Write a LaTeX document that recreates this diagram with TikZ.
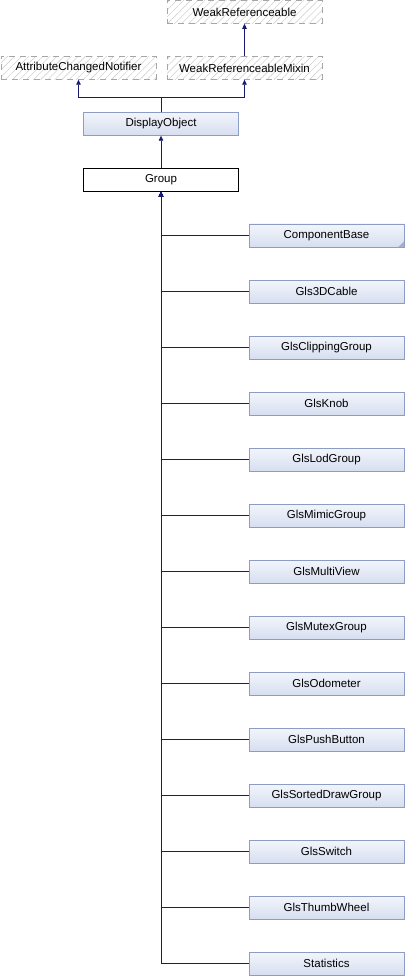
\documentclass[tikz,border=0pt]{standalone}
\usepackage{fontspec}
\setmainfont{Liberation Sans}
\usetikzlibrary{arrows.meta,patterns.meta}
\definecolor{edgeblue}{HTML}{191970}
\definecolor{boxline}{HTML}{8C9CC4}
\definecolor{boxtop}{HTML}{F2F5FB}
\definecolor{boxbottom}{HTML}{D6DEEF}
\tikzset{>={Triangle[length=5pt,width=4.5pt]}}
\tikzset{
  cls/.style={draw=boxline, top color=boxtop, bottom color=boxbottom,
    minimum width=155pt, minimum height=23pt, inner sep=0pt,
    font=\fontsize{11.5}{13}\selectfont},
  current/.style={cls, draw=black, fill=white, top color=white, bottom color=white},
  hidden/.style={draw=gray!70, dashed, dash pattern=on 6pt off 5pt,
    pattern={Lines[angle=45,distance=5pt,line width=0.6pt]}, pattern color=gray!35,
    minimum width=155pt, minimum height=23pt, inner sep=0pt,
    font=\fontsize{11.5}{13}\selectfont},
  inherit/.style={->, draw=edgeblue, line width=0.6pt}
}

\begin{document}
\begin{tikzpicture}[x=1pt, y=-1pt]
        \useasboundingbox (0,0) rectangle (405,976);
        \node[hidden] (wr) at (244.5,12) {WeakReferenceable}; %top
        \node[hidden] (acn) at (78.5,68) {AttributeChangedNotifier};
        \node[hidden] (wrm) at (244.5,68) {WeakReferenceableMixin};
        \node[cls] (dobj) at (161,124) {DisplayObject};
        \node[current] (group) at (161,180) {Group};
        \coordinate (split) at (161,97);

        \node[cls] (cbase) at (326.5,235.5) {ComponentBase};
        \fill[boxline!80] (cbase.south east) -- ++(0,-6) -- ++(-6,6) -- cycle;
        \node[cls] (cable) at (326.5,291.5) {Gls3DCable};
        \node[cls] (clip) at (326.5,347.5) {GlsClippingGroup};
        \node[cls] (knob) at (326.5,403.5) {GlsKnob};
        \node[cls] (lod) at (326.5,459.5) {GlsLodGroup};
        \node[cls] (mimic) at (326.5,515.5) {GlsMimicGroup};
        \node[cls] (multi) at (326.5,571.5) {GlsMultiView};
        \node[cls] (mutex) at (326.5,627.5) {GlsMutexGroup};
        \node[cls] (odo) at (326.5,683.5) {GlsOdometer};
        \node[cls] (push) at (326.5,739.5) {GlsPushButton};
        \node[cls] (sorted) at (326.5,795.5) {GlsSortedDrawGroup};
        \node[cls] (switch) at (326.5,851.5) {GlsSwitch};
        \node[cls] (thumb) at (326.5,907.5) {GlsThumbWheel};
        \node[cls] (stats) at (326.5,963.5) {Statistics};

        \draw[inherit] (wrm.north) -- (wr.south);
        \draw[inherit] (dobj.north) -- (split) -| (acn.south);
        \draw[inherit] (split) -| (wrm.south);
        \draw[inherit] (dobj.north |- group.north) -- (dobj.south);
        \draw[inherit] (cbase.west) -| (group.south);
        \draw[inherit] (cable.west) -| (group.south);
        \draw[inherit] (clip.west) -| (group.south);
        \draw[inherit] (knob.west) -| (group.south);
        \draw[inherit] (lod.west) -| (group.south);
        \draw[inherit] (mimic.west) -| (group.south);
        \draw[inherit] (multi.west) -| (group.south);
        \draw[inherit] (mutex.west) -| (group.south);
        \draw[inherit] (odo.west) -| (group.south);
        \draw[inherit] (push.west) -| (group.south);
        \draw[inherit] (sorted.west) -| (group.south);
        \draw[inherit] (switch.west) -| (group.south);
        \draw[inherit] (thumb.west) -| (group.south);
        \draw[inherit] (stats.west) -| (group.south);
      \end{tikzpicture}
\end{document}
